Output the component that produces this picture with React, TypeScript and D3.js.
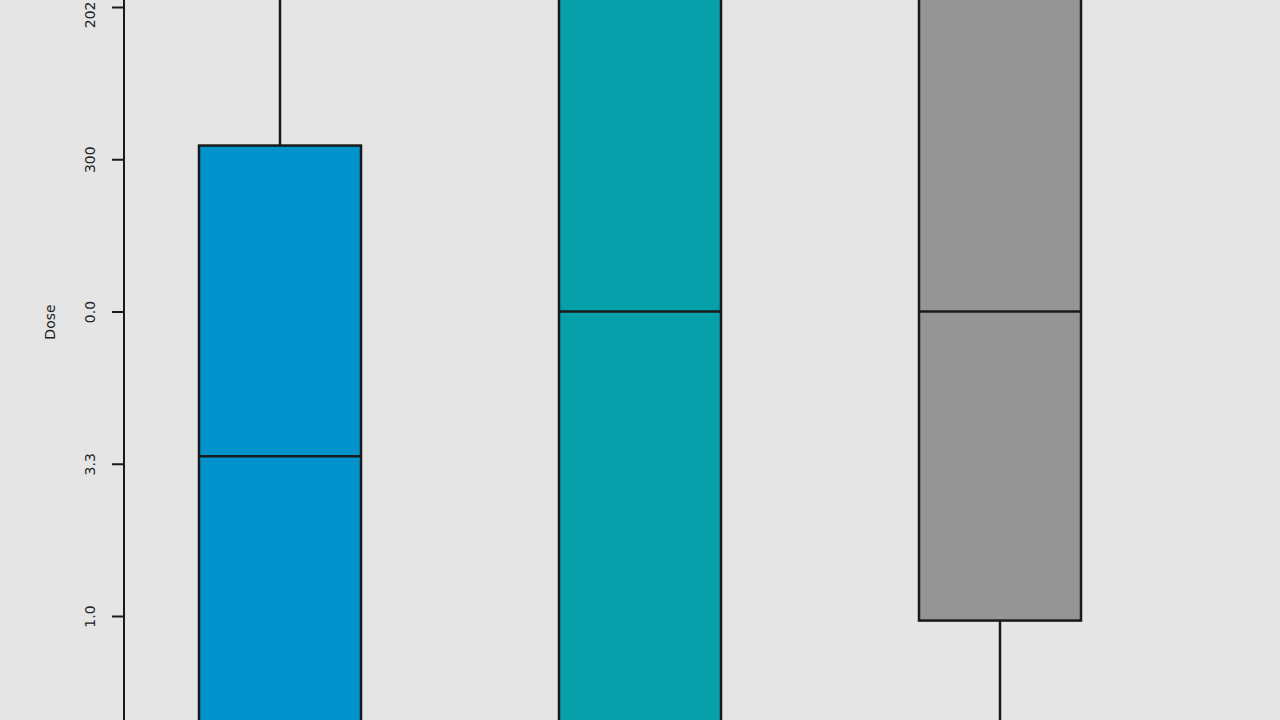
import * as d3 from 'd3'
import { useEffect, useRef } from 'react'

// groups and their box statistics
const categories = ['A', 'B', 'C']
const whiskerLow = [0.1, 0.0, 0.0]
const q1 = [0.2, 0.1, 0.97]
const median = [2.05, 3.0, 3.0]
const q3 = [4.09, 5.4, 5.4]
const whiskerHigh = [5.3, 5.5, 5.5]
const fills = ['#0393cc', '#06a0aa', '#959595']

// y ticks with the labels as they are printed
const tickValues = [1, 2, 3, 4, 5]
const tickLabels = ['1.0', '3.3', '0.0', '300', '202']
const yTitle = 'Dose'

const width = 1280
const height = 720

const App = () => {
  const ref = useRef<SVGSVGElement>(null)

  useEffect(() => {
    document.body.style.margin = '0'
    const svg = d3.select(ref.current)
    svg.selectAll('*').remove()

    svg.append('rect').attr('width', width).attr('height', height).attr('fill', '#e5e5e5')

    const y = d3.scaleLinear().domain([1, 5]).range([616, 7])
    const x = d3
      .scaleBand()
      .domain(categories)
      .range([100, 1180])
      .paddingInner(0.55)
      .paddingOuter(0.275)

    // boxes
    const boxes = svg
      .append('g')
      .selectAll('g')
      .data(categories)
      .enter()
      .append('g')

    const cx = (d: string) => (x(d) as number) + x.bandwidth() / 2

    boxes
      .append('line')
      .attr('x1', cx)
      .attr('x2', cx)
      .attr('y1', (_, i) => y(whiskerHigh[i]))
      .attr('y2', (_, i) => y(whiskerLow[i]))
      .attr('stroke', '#1a1a1a')
      .attr('stroke-width', 2.5)

    boxes
      .append('rect')
      .attr('x', (d) => x(d) as number)
      .attr('width', x.bandwidth())
      .attr('y', (_, i) => y(q3[i]))
      .attr('height', (_, i) => y(q1[i]) - y(q3[i]))
      .attr('fill', (_, i) => fills[i])
      .attr('stroke', '#1a1a1a')
      .attr('stroke-width', 2.5)

    boxes
      .append('line')
      .attr('x1', (d) => x(d) as number)
      .attr('x2', (d) => (x(d) as number) + x.bandwidth())
      .attr('y1', (_, i) => y(median[i]))
      .attr('y2', (_, i) => y(median[i]))
      .attr('stroke', '#1a1a1a')
      .attr('stroke-width', 2.5)

    // y axis
    const yAxis = d3
      .axisLeft(y)
      .tickValues(tickValues)
      .tickSize(12)
      .tickPadding(14)
      .tickFormat((_, i) => tickLabels[i])

    const axisG = svg
      .append('g')
      .attr('transform', 'translate(124,0)')
      .call(yAxis)
    axisG.select('.domain').remove()
    axisG.selectAll('.tick line').attr('stroke', '#1a1a1a').attr('stroke-width', 2)
    axisG
      .selectAll('.tick text')
      .attr('transform', 'rotate(-90)')
      .attr('x', 0)
      .attr('y', -34)
      .attr('dy', '0.35em')
      .style('text-anchor', 'middle')
      .attr('font-family', 'DejaVu Sans')
      .attr('font-size', 14)
      .attr('fill', '#222')
    // the top label sits against the edge: keep it inside the picture
    axisG
      .selectAll('.tick text')
      .filter((_, i) => i === tickValues.length - 1)
      .attr('x', 6)
      .style('text-anchor', 'end')

    svg
      .append('line')
      .attr('x1', 124)
      .attr('x2', 124)
      .attr('y1', 0)
      .attr('y2', height)
      .attr('stroke', '#1a1a1a')
      .attr('stroke-width', 2)

    // axis title
    svg
      .append('text')
      .attr('transform', 'translate(50,322) rotate(-90)')
      .attr('dy', '0.35em')
      .style('text-anchor', 'middle')
      .attr('font-family', 'DejaVu Sans')
      .attr('font-size', 14)
      .attr('fill', '#222')
      .text(yTitle)
  }, [])

  return <svg ref={ref} width={width} height={height} style={{ display: 'block' }} />
}

export default App
